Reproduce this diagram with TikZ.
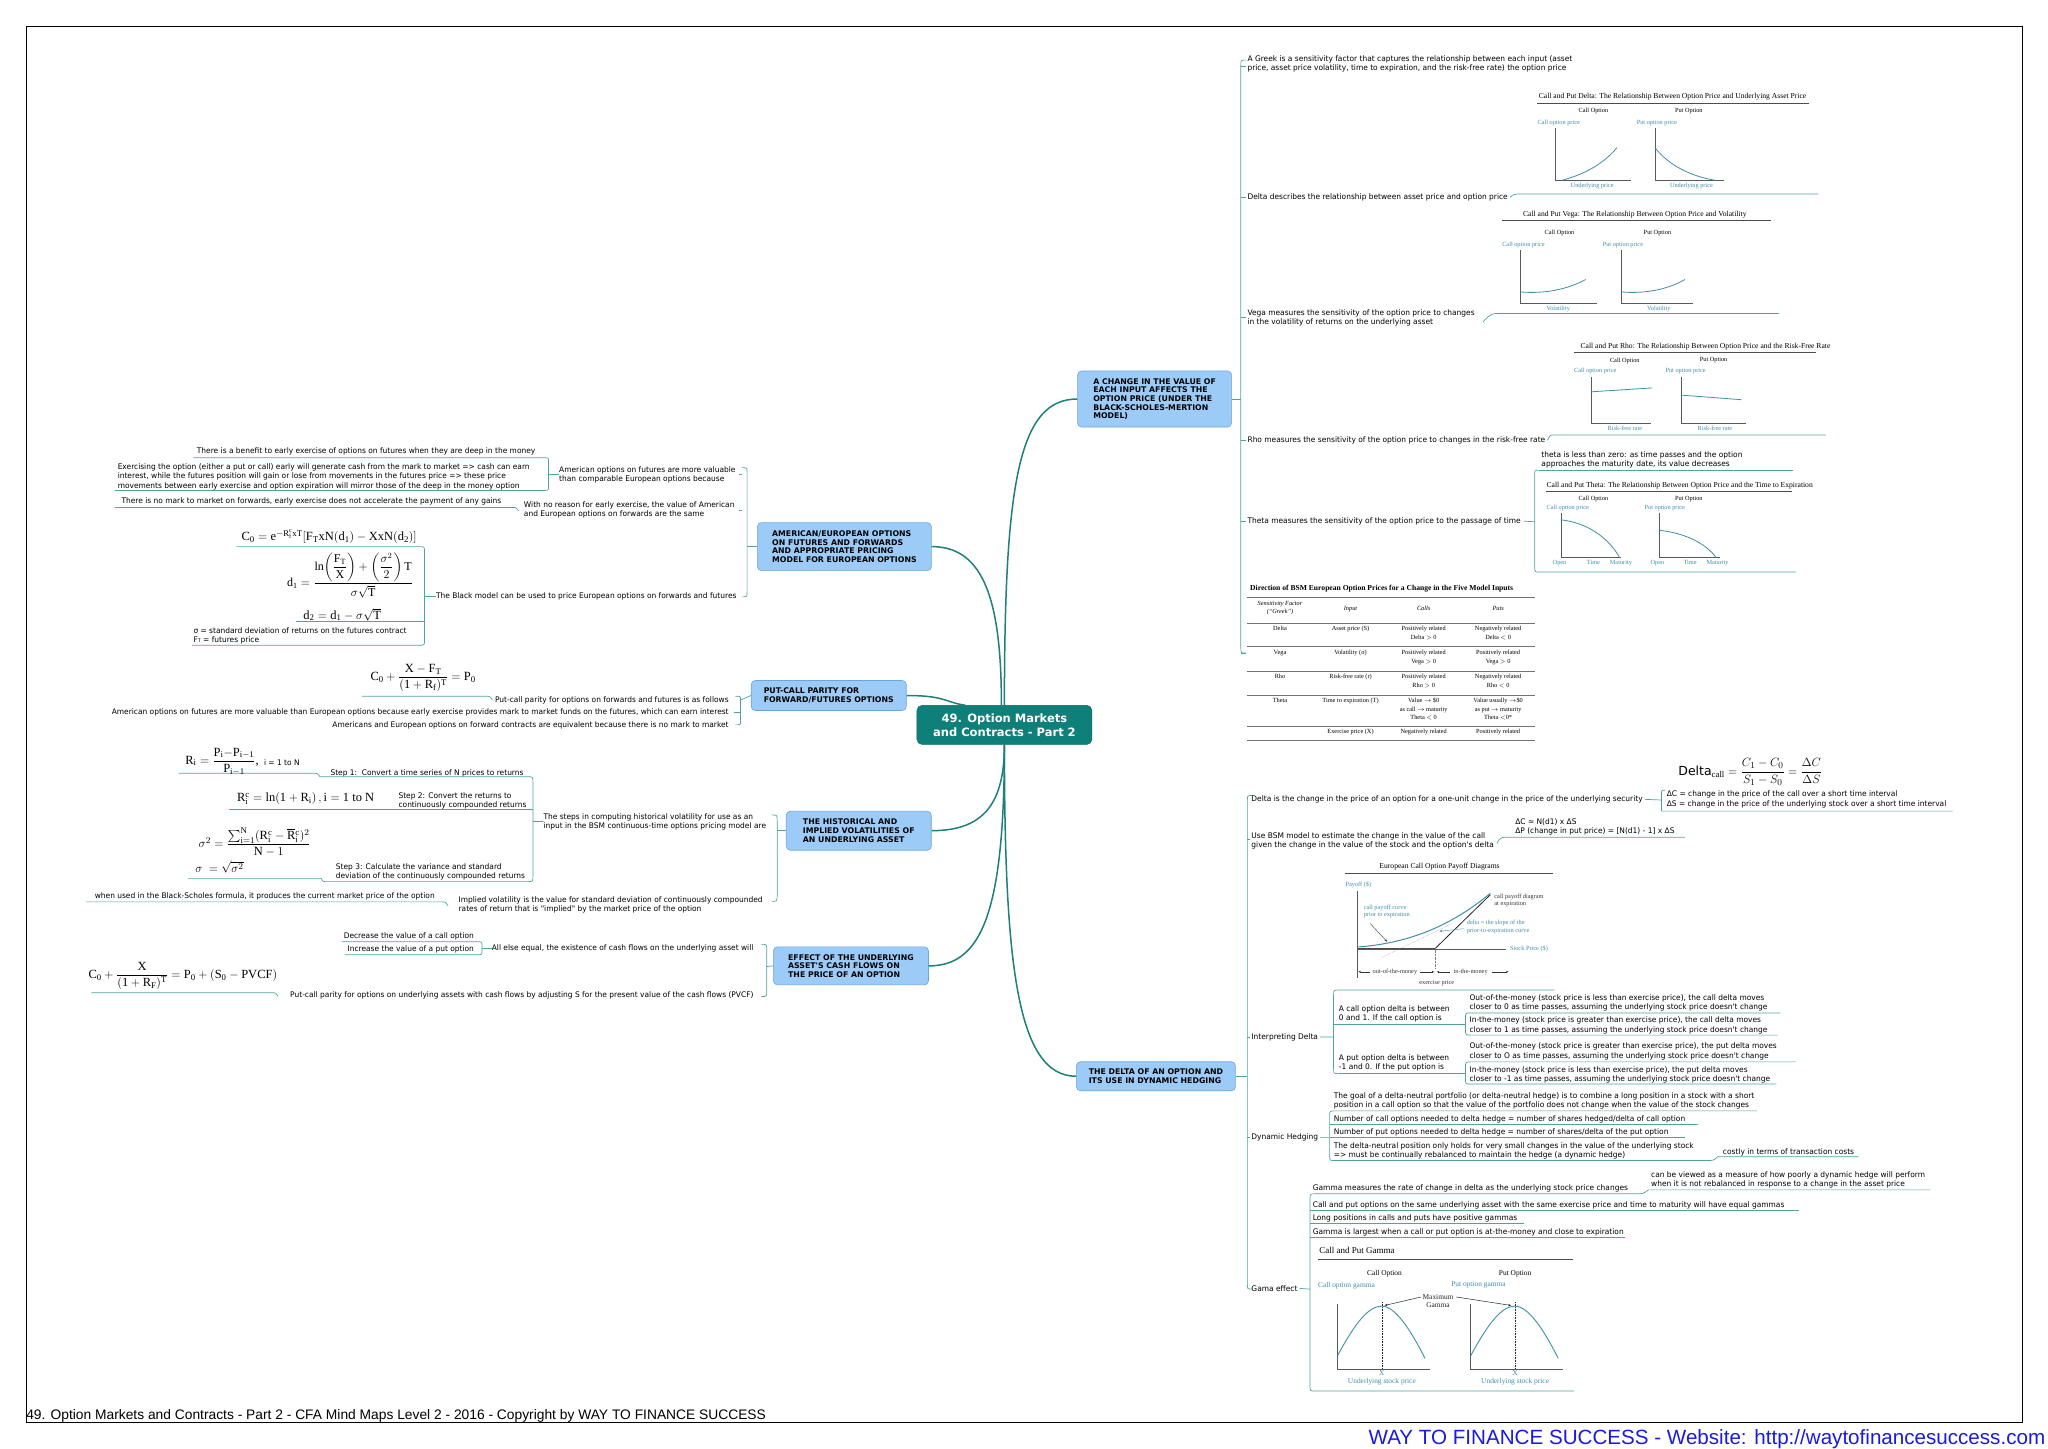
\documentclass[tikz,border=0pt]{standalone}
\usepackage{amsmath}
\usepackage{fontspec}
\setmainfont{Liberation Serif}
\newfontfamily\vf{DejaVu Sans}[FakeStretch=0.97]
\newfontfamily\vfw{DejaVu Sans}
\newfontfamily\arf{Liberation Sans}
\usetikzlibrary{arrows.meta,calc}
\definecolor{lc}{HTML}{4FA59E}
\definecolor{mc}{HTML}{1E8079}
\definecolor{cfill}{HTML}{0F7F7A}
\definecolor{bfill}{HTML}{9DCBF7}
\definecolor{bdraw}{HTML}{6AA7DE}
\definecolor{ct}{HTML}{3F8FA8}
\definecolor{wb}{HTML}{1A1AE0}
\newcommand\txf{\vf\fontsize{7.7}{9.2}\selectfont}
\newcommand\brf{\vfw\bfseries\fontsize{7.8}{8.7}\selectfont}
\newcommand\ctf{\vfw\bfseries\fontsize{11.5}{14}\selectfont}
\newcommand\chf{\rmfamily\fontsize{6.3}{7.2}\selectfont}
\newcommand\chtf{\rmfamily\fontsize{7.6}{9}\selectfont}
\newcommand\tbf{\rmfamily\fontsize{6.3}{8.8}\selectfont}
\newcommand\tbtf{\rmfamily\bfseries\fontsize{7.6}{9}\selectfont}
\newcommand\fmf{\fontsize{12.5}{14}\selectfont}
\newcommand\gmf{\rmfamily\fontsize{7.4}{8.5}\selectfont}
\begin{document}
\begin{tikzpicture}[x=1.306pt,y=-1.306pt,
  bt/.style={font=\txf,inner sep=0pt,align=left,anchor=north west},
  btr/.style={font=\txf,inner sep=0pt,align=right,anchor=east},
  ln/.style={draw=lc,line width=0.7pt},
  mainln/.style={draw=mc,line width=1.5pt},
  branch/.style={draw=bdraw,fill=bfill,rounded corners=4pt,line width=0.6pt,font=\brf,align=left,inner sep=0pt},
  ctr/.style={fill=cfill,draw=cfill!80!black,rounded corners=5pt,font=\ctf,text=white,align=center,inner sep=0pt},
  ax/.style={draw=gray!70!black,line width=0.5pt},
  cv/.style={draw=ct,line width=0.8pt},
  chl/.style={font=\chf,inner sep=0pt},
  cht/.style={font=\chf,text=ct,inner sep=0pt},
  chtitle/.style={font=\chtf,inner sep=0pt,anchor=base west},
  rule/.style={draw=black!70,line width=0.6pt},
  tb/.style={font=\tbf,inner sep=0pt,align=center,anchor=north},
  fm/.style={font=\fmf,inner sep=0pt}
]
\useasboundingbox (0,0) rectangle (1568,1109);
\fill[white] (0,0) rectangle (1568,1109);
% frame and footer
\draw[black,line width=0.7pt] (20,20) rectangle (1548,1089);
\node[font=\arf\fontsize{13.8}{15}\selectfont,anchor=base west,inner sep=0pt] (foot) at (20,1087) {49. Option Markets and Contracts - Part 2 - CFA Mind Maps Level 2 - 2016 - Copyright by WAY TO FINANCE SUCCESS};
\node[font=\arf\fontsize{20.6}{22}\selectfont,text=wb,anchor=base east,inner sep=0pt] (web) at (1566,1106) {WAY TO FINANCE SUCCESS - Website: http://waytofinancesuccess.com};

% ===== central and branch nodes
\node[ctr,minimum width=175pt,minimum height=39pt] (c) at (769,555) {49. Option Markets\\and Contracts - Part 2};
\node[branch,minimum width=154pt,minimum height=56pt] (r1) at (884,305.5) {A CHANGE IN THE VALUE OF\\EACH INPUT AFFECTS THE\\OPTION PRICE (UNDER THE\\BLACK-SCHOLES-MERTION\\MODEL)};
\node[branch,minimum width=159pt,minimum height=29pt] (r2) at (885,824) {THE DELTA OF AN OPTION AND\\ITS USE IN DYNAMIC HEDGING};
\node[branch,minimum width=174pt,minimum height=48pt] (l1) at (646.5,418.5) {AMERICAN/EUROPEAN OPTIONS\\ON FUTURES AND FORWARDS\\AND APPROPRIATE PRICING\\MODEL FOR EUROPEAN OPTIONS};
\node[branch,minimum width=155pt,minimum height=30pt] (l2) at (634.5,532.5) {PUT-CALL PARITY FOR\\FORWARD/FUTURES OPTIONS};
\node[branch,minimum width=145pt,minimum height=39pt] (l3) at (657.5,636) {THE HISTORICAL AND\\IMPLIED VOLATILITIES OF\\AN UNDERLYING ASSET};
\node[branch,minimum width=155pt,minimum height=38pt] (l4) at (651.5,739.5) {EFFECT OF THE UNDERLYING\\ASSET'S CASH FLOWS ON\\THE PRICE OF AN OPTION};

\draw[mainln] (c.north) .. controls +(0,-170) and +(-45,0) .. (r1.west);
\draw[mainln] (c.south) .. controls +(0,170) and +(-45,0) .. (r2.west);
\draw[mainln] ([xshift=-3pt]c.north) .. controls +(0,-80) and +(40,0) .. (l1.east);
\draw[mainln] (l2.east) .. controls +(30,0) and +(-15,-2) .. ($(c.north)+(-30,0)$);
\draw[mainln] (c.south) .. controls +(0,45) and +(40,0) .. (l3.east);
\draw[mainln] (c.south) .. controls +(0,130) and +(40,0) .. (l4.east);

% ===== R1 children
\draw[ln] (954,46) .. controls (950,46) .. (950,50) -- (950,496) .. controls (950,500) .. (954,500);
\draw[ln] (r1.east) -- (950,305.5);
\node[bt] (g1) at (955,42.5) {A Greek is a sensitivity factor that captures the relationship between each input (asset\\price, asset price volatility, time to expiration, and the risk-free rate) the option price};
\node[bt] (d1) at (955,148) {Delta describes the relationship between asset price and option price};
\node[bt] (v1) at (955,237) {Vega measures the sensitivity of the option price to changes\\in the volatility of returns on the underlying asset};
\node[bt] (rh1) at (955,334) {Rho measures the sensitivity of the option price to changes in the risk-free rate};
\node[bt] (th1) at (955,396) {Theta measures the sensitivity of the option price to the passage of time};
\foreach \yy in {51,151,243,337,399} \draw[ln] (950,\yy) -- (954,\yy);

% delta chart
\draw[ln] ([xshift=2pt]d1.east) .. controls +(2,-3) and +(-3,0) .. (1167,148.5) -- (1392,148.5);
\node[chtitle] at (1178,75.5) {Call and Put Delta: The Relationship Between Option Price and Underlying Asset Price};
\draw[rule] (1177,79) -- (1385,79);
\node[chl] at (1220,85) {Call Option};
\node[chl] at (1293,85) {Put Option};
\node[cht,anchor=west] at (1177,94) {Call option price};
\node[cht,anchor=west] at (1253,94) {Put option price};
\draw[ax] (1191,98) -- (1191,138) -- (1249,138);
\draw[cv] (1196,138) .. controls (1215,133) and (1229,124) .. (1238,113);
\draw[ax] (1267,98) -- (1267,138) -- (1320,138);
\draw[cv] (1267,113) .. controls (1278,127) and (1295,135) .. (1313,138);
\node[cht] at (1219,142.5) {Underlying price};
\node[cht] at (1295,142.5) {Underlying price};

% vega chart
\draw[ln] ([xshift=8pt,yshift=-4pt]v1.east) .. controls +(2,-3) and +(-3,0) .. (1145,240) -- (1362,240);
\node[chtitle] at (1166,166) {Call and Put Vega: The Relationship Between Option Price and Volatility};
\draw[rule] (1150,169) -- (1356,169);
\node[chl] at (1194,178.5) {Call Option};
\node[chl] at (1269,178.5) {Put Option};
\node[cht,anchor=west] at (1150,187.5) {Call option price};
\node[cht,anchor=west] at (1227,187.5) {Put option price};
\draw[ax] (1164,191.5) -- (1164,232) -- (1223,232);
\draw[cv] (1164,223.5) .. controls (1182,225) and (1199,222) .. (1214,214);
\draw[ax] (1241,191.5) -- (1241,232) -- (1296,232);
\draw[cv] (1241,223.5) .. controls (1259,225) and (1276,222) .. (1290,214);
\node[cht] at (1193,236.5) {Volatility};
\node[cht] at (1270,236.5) {Volatility};

% rho chart
\draw[ln] ([xshift=2pt]rh1.east) .. controls +(2,-3) and +(-3,0) .. (1189,333) -- (1398,333);
\node[chtitle] at (1210,267) {Call and Put Rho: The Relationship Between Option Price and the Risk-Free Rate};
\draw[rule] (1205,270) -- (1390,270);
\node[chl] at (1244,276) {Call Option};
\node[chl] at (1312,276) {Put Option};
\node[cht,anchor=west] at (1205,284) {Call option price};
\node[cht,anchor=west] at (1275,284) {Put option price};
\draw[ax] (1218,288.5) -- (1218,324) -- (1264,324);
\draw[cv] (1218,300) -- (1265,297);
\draw[ax] (1287,288.5) -- (1287,324) -- (1337,324);
\draw[cv] (1287,302.5) -- (1333,306);
\node[cht] at (1244,328) {Risk-free rate};
\node[cht] at (1313,328) {Risk-free rate};

% theta
\node[bt] (th2) at (1180,345.5) {theta is less than zero: as time passes and the option\\approaches the maturity date, its value decreases};
\draw[ln] (1178,360) -- (1373,360);
\draw[ln] (1178,360) .. controls (1175,360) .. (1175,364) -- (1175,434) .. controls (1175,438) .. (1179,438) -- (1375,438);
\draw[ln] ([xshift=3pt]th1.east) -- (1175,399.5);
\node[chtitle] at (1184,373) {Call and Put Theta: The Relationship Between Option Price and the Time to Expiration};
\draw[rule] (1184,376) -- (1372,376);
\node[chl] at (1220,382) {Call Option};
\node[chl] at (1293,382) {Put Option};
\node[cht,anchor=west] at (1184,389) {Call option price};
\node[cht,anchor=west] at (1259,389) {Put option price};
\draw[ax] (1195,393) -- (1195,427) -- (1241,427);
\draw[cv] (1195,398) .. controls (1215,400) and (1232,412) .. (1240,427);
\draw[ax] (1270,393) -- (1270,427) -- (1317,427);
\draw[cv] (1270,406) .. controls (1290,408) and (1306,416) .. (1314,427);
\foreach \xx/\tt in {1194/Open,1220/Time,1241/Maturity,1269/Open,1294/Time,1315/Maturity}
  \node[cht] at (\xx,431) {\tt};

% table
\node[font=\tbtf,anchor=base west,inner sep=0pt] (tbl) at (957,452) {Direction of BSM European Option Prices for a Change in the Five Model Inputs};
\draw[ln] (950,500) -- (954,500);
\foreach \yy in {457,477,495,514,532,556,567} \draw[draw=black!55,line width=0.45pt] (955,\yy) -- (1175,\yy);
\node[tb,font=\tbf\itshape] at (980,460) {Sensitivity Factor\\(``Greek'')};
\node[tb,font=\tbf\itshape] at (1034,464) {Input};
\node[tb,font=\tbf\itshape] at (1090,464) {Calls};
\node[tb,font=\tbf\itshape] at (1147,464) {Puts};
\node[tb] at (980,479) {Delta};
\node[tb] at (1034,479) {Asset price (S)};
\node[tb] at (1090,479) {Positively related\\Delta $>$ 0};
\node[tb] at (1147,479) {Negatively related\\Delta $<$ 0};
\node[tb] at (980,497.5) {Vega};
\node[tb] at (1034,497.5) {Volatility (σ)};
\node[tb] at (1090,497.5) {Positively related\\Vega $>$ 0};
\node[tb] at (1147,497.5) {Positively related\\Vega $>$ 0};
\node[tb] at (980,516) {Rho};
\node[tb] at (1034,516) {Risk-free rate (r)};
\node[tb] at (1090,516) {Positively related\\Rho $>$ 0};
\node[tb] at (1147,516) {Negatively related\\Rho $<$ 0};
\node[tb] at (980,534) {Theta};
\node[tb] at (1034,534) {Time to expiration (T)};
\node[tb] at (1090,534) {Value $\rightarrow$ \$0\\as call $\rightarrow$ maturity\\Theta $<$ 0};
\node[tb] at (1147,534) {Value usually $\rightarrow$\$0\\as put $\rightarrow$ maturity\\Theta $<$0*};
\node[tb] at (1034,558) {Exercise price (X)};
\node[tb] at (1090,558) {Negatively related};
\node[tb] at (1147,558) {Positively related};

% ===== R2 children
\draw[ln] (959,609) .. controls (955,609) .. (955,613) -- (955,983) .. controls (955,987) .. (959,987);
\draw[ln] (r2.east) -- (955,824);
\node[bt] (dl1) at (958,609) {Delta is the change in the price of an option for a one-unit change in the price of the underlying security};
\node[bt] (dl2) at (958,637) {Use BSM model to estimate the change in the value of the call\\given the change in the value of the stock and the option's delta};
\node[bt] (dl3) at (958,791) {Interpreting Delta};
\node[bt] (dl4) at (958,868) {Dynamic Hedging};
\node[bt] (dl5) at (958,984) {Gama effect};
\draw[ln] (955,643) -- (957,643);
\draw[ln] (955,794) -- (957,794);
\draw[ln] (955,871) -- (957,871);

% delta formula
\node[fm] (dform) at (1340,591) {{\vfw Delta}$_{\text{call}} = \dfrac{C_1-C_0}{S_1-S_0} = \dfrac{\Delta C}{\Delta S}$};
\node[bt] (dcs) at (1276,605.5) {ΔC = change in the price of the call over a short time interval\\ΔS = change in the price of the underlying stock over a short time interval};
\draw[ln] (1275,605) .. controls (1272,605) .. (1272,608) -- (1272,621) -- (1495,621);
\draw[ln] ([xshift=2pt]dl1.east) -- (1272,612.5);
\node[bt] (bsm) at (1160,626.5) {ΔC ≈ N(d1) x ΔS\\ΔP (change in put price) = [N(d1) - 1] x ΔS};
\draw[ln] ([xshift=3pt,yshift=-3pt]dl2.east) .. controls +(1,-3) and +(-3,0) .. (1152,641) -- (1290,641);

% payoff diagram
\node[chtitle] at (1056,665) {European Call Option Payoff Diagrams};
\draw[rule] (1030,668.5) -- (1189,668.5);
\node[cht,anchor=west] at (1030,677.5) {Payoff (\$)};
\draw[ax] (1039.5,682.5) -- (1039.5,749);
\draw[ax] (1039.5,726.5) -- (1153,726.5);
\node[cht,anchor=west] at (1156,726.5) {Stock Price (\$)};
\draw[gray!60!black,line width=1.3pt] (1040,726) -- (1099,726);
\draw[gray!30!black,line width=0.8pt] (1099,726) -- (1141,685);
\draw[ct,line width=1pt] (1040,725) .. controls (1080,722) and (1112,708) .. (1141,684);
\draw[gray,densely dotted] (1058,733) -- (1112,707);
\draw[gray,densely dotted] (1099,726) -- (1099,742);
\node[cht,anchor=north west,align=left] at (1044,693) {call payoff curve\\prior to expiration};
\draw[-{Stealth[length=3pt]},gray!50!black,line width=0.4pt] (1049,707) -- (1062,721);
\node[chl,anchor=north west,align=left,text=gray!40!black] at (1144,684) {call payoff diagram\\at expiration};
\node[cht,anchor=north west,align=left] at (1123,704.5) {delta = the slope of the\\prior-to-expiration curve};
\draw[-{Stealth[length=3pt]},ct,line width=0.4pt] (1121,711) -- (1102,713);
\draw[{Stealth[length=2.5pt]}-,gray!40!black,line width=0.4pt] (1040,744) -- (1049,744);
\node[chl,text=gray!40!black] at (1068,744) {out-of-the-money};
\draw[-{Stealth[length=2.5pt]},gray!40!black,line width=0.4pt] (1087,744) -- (1098,744);
\draw[{Stealth[length=2.5pt]}-,gray!40!black,line width=0.4pt] (1100,744) -- (1110,744);
\node[chl,text=gray!40!black] at (1126,744) {in-the-money};
\draw[-{Stealth[length=2.5pt]},gray!40!black,line width=0.4pt] (1142,744) -- (1155,744);
\node[chl,text=gray!40!black] at (1100,752.5) {exercise price};

% interpreting delta
\draw[ln] (1190,758) -- (1025,758) .. controls (1021,758) .. (1021,762) -- (1021,818) .. controls (1021,822) .. (1025,822);
\draw[ln] ([xshift=2pt]dl3.east) -- (1021,794);
\node[bt] (cd) at (1025,769.5) {A call option delta is between\\0 and 1. If the call option is};
\node[bt] (pd) at (1025,807.5) {A put option delta is between\\-1 and 0. If the put option is};
\draw[ln] (1021,784) -- (1122,784);
\draw[ln] (1025,822) -- (1122,822);
\node[bt] (c1) at (1125,761) {Out-of-the-money (stock price is less than exercise price), the call delta moves\\closer to 0 as time passes, assuming the underlying stock price doesn't change};
\node[bt] (c2) at (1125,778.5) {In-the-money (stock price is greater than exercise price), the call delta moves\\closer to 1 as time passes, assuming the underlying stock price doesn't change};
\node[bt] (p1) at (1125,798.5) {Out-of-the-money (stock price is greater than exercise price), the put delta moves\\closer to O as time passes, assuming the underlying stock price doesn't change};
\node[bt] (p2) at (1125,816.5) {In-the-money (stock price is less than exercise price), the put delta moves\\closer to -1 as time passes, assuming the underlying stock price doesn't change};
\draw[ln] (1363,775.5) -- (1126,775.5) .. controls (1122,775.5) .. (1122,779.5) -- (1122,788.5) .. controls (1122,792.5) .. (1126,792.5) -- (1361,792.5);
\draw[ln] (1375,813) -- (1126,813) .. controls (1122,813) .. (1122,817) -- (1122,826) .. controls (1122,830) .. (1126,830) -- (1360,830);

% dynamic hedging
\draw[ln] (1345,850.5) -- (1022,850.5) .. controls (1018,850.5) .. (1018,854.5) -- (1018,884.5) .. controls (1018,888.5) .. (1022,888.5) -- (1307,888.5);
\draw[ln] ([xshift=2pt]dl4.east) -- (1018,871);
\node[bt] (h1) at (1021,836.5) {The goal of a delta-neutral portfolio (or delta-neutral hedge) is to combine a long position in a stock with a short\\position in a call option so that the value of the portfolio does not change when the value of the stock changes};
\node[bt] (h2) at (1021,854) {Number of call options needed to delta hedge = number of shares hedged/delta of call option};
\node[bt] (h3) at (1021,864) {Number of put options needed to delta hedge = number of shares/delta of the put option};
\node[bt] (h4) at (1021,874.5) {The delta-neutral position only holds for very small changes in the value of the underlying stock\\=> must be continually rebalanced to maintain the hedge (a dynamic hedge)};
\draw[ln] (1018,860.5) -- (1300,860.5);
\draw[ln] (1018,871) -- (1290,871);
\node[bt] (h5) at (1319,879) {costly in terms of transaction costs};
\draw[ln] (1307,888.5) .. controls (1312,888.5) .. (1315,885.7) -- (1423,885.7);

% gamma
\draw[ln] (1252,914) -- (1007,914) .. controls (1003,914) .. (1003,918) -- (1003,1061) .. controls (1003,1065) .. (1007,1065) -- (1205,1065);
\draw[ln] ([xshift=2pt]dl5.east) -- (1003,987);
\node[bt] (gm1) at (1005,907) {Gamma measures the rate of change in delta as the underlying stock price changes};
\node[bt] (gm0) at (1264,897) {can be viewed as a measure of how poorly a dynamic hedge will perform\\when it is not rebalanced in response to a change in the asset price};
\draw[ln] (1252,914) .. controls (1258,914) .. (1262,911) -- (1478,911);
\node[bt] (gm2) at (1005,920) {Call and put options on the same underlying asset with the same exercise price and time to maturity will have equal gammas};
\node[bt] (gm3) at (1005,930) {Long positions in calls and puts have positive gammas};
\node[bt] (gm4) at (1005,940.5) {Gamma is largest when a call or put option is at-the-money and close to expiration};
\draw[ln] (1003,927) -- (1377,927);
\draw[ln] (1003,937) -- (1167,937);
\draw[ln] (1003,947.5) -- (1244,947.5);
\node[chtitle,font=\rmfamily\fontsize{9}{10}\selectfont] at (1010,960) {Call and Put Gamma};
\draw[rule] (1009,964.5) -- (1204,964.5);
\node[chl,font=\gmf] at (1060,975) {Call Option};
\node[chl,font=\gmf] at (1160,975) {Put Option};
\node[cht,font=\gmf,anchor=west] at (1009,984) {Call option gamma};
\node[cht,font=\gmf,anchor=west] at (1111,984) {Put option gamma};
\node[chl,font=\gmf,align=center,text=gray!30!black] (mg) at (1101,996) {Maximum\\Gamma};
\draw[-{Stealth[length=3pt]},gray!30!black,line width=0.5pt] (1088,993) -- (1060,999.5);
\draw[-{Stealth[length=3pt]},gray!30!black,line width=0.5pt] (1115,993) -- (1157,999.5);
\foreach \sx in {0,102} {
  \begin{scope}[xshift=\sx*1.306pt]
  \draw[ax] (1024,998) -- (1024,1048) -- (1095,1048);
  \draw[ct,line width=0.9pt] (1024,1038) .. controls (1038,1012) and (1048,1000) .. (1058,1000) .. controls (1068,1000) and (1080,1018) .. (1091,1040);
  \draw[gray!30!black,densely dotted,line width=0.6pt] (1058,997) -- (1058,1048);
  \node[cht,font=\gmf] at (1058,1051.5) {X};
  \node[cht,font=\gmf] at (1058,1057.5) {Underlying stock price};
  \end{scope}
}

% ===== L1 children
\draw[ln] (568,358) .. controls (572,358) .. (572,362) -- (572,453) .. controls (572,457) .. (568,457);
\draw[ln] (l1.west) -- (572,418.5);
\node[bt] (a1) at (428,357) {American options on futures are more valuable\\than comparable European options because};
\node[bt] (a2) at (401,384) {With no reason for early exercise, the value of American\\and European options on forwards are the same};
\node[btr] (a3) at (564,456.5) {The Black model can be used to price European options on forwards and futures};
\draw[ln] (568,363) -- (566,363);
\draw[ln] (568,391) -- (566,391);
\node[btr,anchor=base east] (a11) at (410,347.5) {There is a benefit to early exercise of options on futures when they are deep in the money};
\node[bt] (a12) at (90,355) {Exercising the option (either a put or call) early will generate cash from the mark to market => cash can earn\\interest, while the futures position will gain or lose from movements in the futures price => these price\\movements between early exercise and option expiration will mirror those of the deep in the money option};
\draw[ln] (148,350.5) -- (417,350.5) .. controls (420,350.5) .. (420,354) -- (420,371.5) .. controls (420,375.5) .. (416,375.5) -- (88,375.5);
\draw[ln] (420,363) -- (a1.west |- 0,363);
\node[btr,anchor=base east] (a21) at (384,385.5) {There is no mark to market on forwards, early exercise does not accelerate the payment of any gains};
\draw[ln] (88,388.5) -- (392,388.5) .. controls (395,388.5) .. (397,391);
% black model formulas
\node[fm] (f1) at (252,411) {$\mathrm{C_0 = e^{-R_f^c x T}[F_T x N(d_1) - XxN(d_2)]}$};
\node[fm,font=\fontsize{12}{13}\selectfont] (f2) at (268,440.5) {$\mathrm{d_1} = \dfrac{\ln\!\left(\dfrac{\mathrm{F_T}}{\mathrm{X}}\right) + \left(\dfrac{\sigma^2}{2}\right)\mathrm{T}}{\sigma\sqrt{\mathrm{T}}}$};
\node[fm] (f3) at (262,470.5) {$\mathrm{d_2 = d_1} - \sigma\sqrt{\mathrm{T}}$};
\node[bt] (f4) at (148,480.5) {σ = standard deviation of returns on the futures contract\\F{\fontsize{5}{5}\selectfont T} = futures price};
\draw[ln] (181,418.5) -- (321,418.5) .. controls (325,418.5) .. (325,422.5) -- (325,490) .. controls (325,494) .. (321,494) -- (147,494);
\draw[ln] (227,476) -- (325,476);
\draw[ln] (325,456.5) -- (a3.west);

% ===== L2 children
\draw[ln] (563,533) .. controls (567,533) .. (567,536) -- (567,552) .. controls (567,555) .. (563,555);
\draw[ln] (l2.west) -- (567,536);
\node[btr] (p1l) at (558,536) {Put-call parity for options on forwards and futures is as follows};
\node[btr] (p2l) at (558,545.4) {American options on futures are more valuable than European options because early exercise provides mark to market funds on the futures, which can earn interest};
\node[btr] (p3l) at (558,555) {Americans and European options on forward contracts are equivalent because there is no mark to market};
\draw[ln] (567,545.4) -- (562,545.4);
\node[fm] (pcf) at (324,519) {$\mathrm{C_0} + \dfrac{\mathrm{X - F_T}}{\mathrm{(1 + R_f)^T}} = \mathrm{P_0}$};
\draw[ln] (277,533) -- (372,533) .. controls (375,533) .. (377,536);

% ===== L3 children
\draw[ln] (591,624) .. controls (595,624) .. (595,628) -- (595,686) .. controls (595,690) .. (591,690);
\draw[ln] (l3.west) -- (595,636);
\node[bt] (hv1) at (416,622.5) {The steps in computing historical volatility for use as an\\input in the BSM continuous-time options pricing model are};
\node[bt] (hv2) at (351,686.5) {Implied volatility is the value for standard deviation of continuously compounded\\rates of return that is "implied" by the market price of the option};
\node[btr,anchor=north east] (s1) at (401,589) {Step 1:\ \ Convert a time series of N prices to returns};
\node[bt] (s2) at (305,606.5) {Step 2: Convert the returns to\\continuously compounded returns};
\node[bt] (s3) at (257,661) {Step 3: Calculate the variance and standard\\deviation of the continuously compounded returns};
\draw[ln] (137,592) -- (240,592) .. controls (243,592) .. (245,594.7) -- (404,594.7) .. controls (408,594.7) .. (408,598.7) -- (408,671) .. controls (408,675) .. (404,675) -- (250,675) .. controls (247,675) .. (246,672.5) -- (144,672.5);
\draw[ln] (175,620) -- (408,620);
\draw[ln] (408,629) -- (hv1.west);
\node[fm] (rf1) at (170,583) {$\mathrm{R_i} = \dfrac{\mathrm{P_i{-}P_{i-1}}}{\mathrm{P_{i-1}}}$,};
\node[bt,anchor=west] (rf1b) at (202,584) {i = 1 to N};
\node[fm] (rf2) at (234,611.5) {$\mathrm{R_i^c = ln(1+R_i)\,, i = 1\ to\ N}$};
\node[fm] (rf3) at (195,645) {$\sigma^2 = \dfrac{\sum_{\mathrm{i=1}}^{\mathrm{N}}(\mathrm{R_i^c} - \overline{\mathrm{R}}{}_{\mathrm{i}}^{\mathrm{c}})^2}{\mathrm{N} - 1}$};
\node[fm] (rf4) at (168,664) {$\sigma\ = \sqrt{\sigma^2}$};
\node[btr] (iv1) at (333,686.5) {when used in the Black-Scholes formula, it produces the current market price of the option};
\draw[ln] (66,690.5) -- (338,690.5) .. controls (341,690.5) .. (343,693.5);

% ===== L4 children
\draw[ln] (583,723) .. controls (587,723) .. (587,727) -- (587,759) .. controls (587,763) .. (583,763);
\draw[ln] (l4.west) -- (587,740);
\node[btr] (e1) at (577,726) {All else equal, the existence of cash flows on the underlying asset will};
\node[btr] (e2) at (577,762) {Put-call parity for options on underlying assets with cash flows by adjusting S for the present value of the cash flows (PVCF)};
\node[btr] (e11) at (363,717) {Decrease the value of a call option};
\node[btr] (e12) at (363,727) {Increase the value of a put option};
\draw[ln] (262,721) -- (365,721) .. controls (369,721) .. (369,724) -- (369,728) .. controls (369,731) .. (365,731) -- (264,731);
\draw[ln] (369,726) -- (e1.west);
\node[fm] (pc2) at (140,747) {$\mathrm{C_0} + \dfrac{\mathrm{X}}{\mathrm{(1 + R_F)^T}} = \mathrm{P_0 + (S_0 - PVCF)}$};
\draw[ln] (70,760) -- (208,760) .. controls (211,760) .. (213,763);
\end{tikzpicture}
\end{document}
